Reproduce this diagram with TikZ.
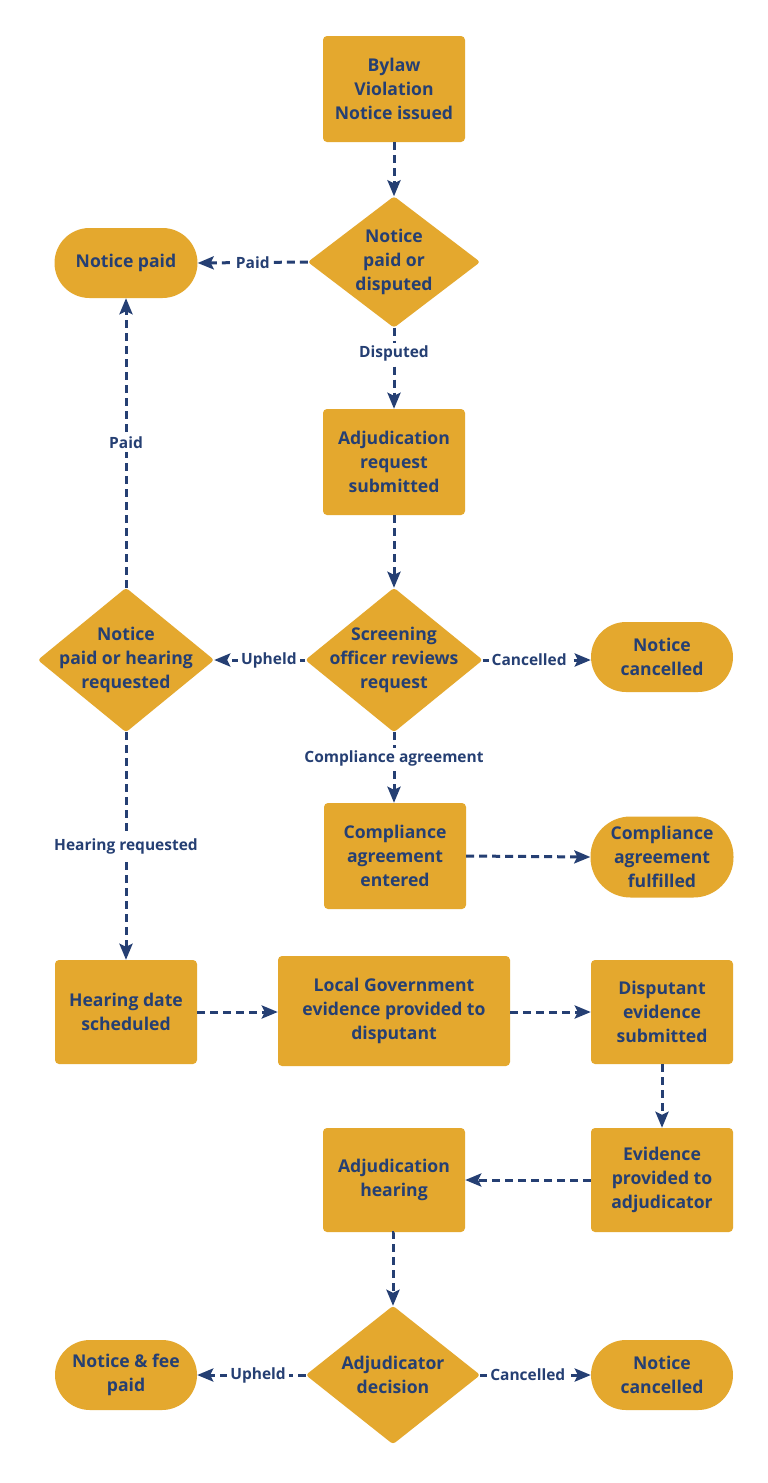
\documentclass[tikz,border=0pt]{standalone}
\usepackage{fontspec}
\setmainfont{Open Sans}
\usetikzlibrary{arrows.meta}
\definecolor{gold}{HTML}{E4A82E}
\definecolor{navy}{HTML}{253F73}
\tikzset{
  boxtext/.style={font=\bfseries\fontsize{17.6}{24}\selectfont, text=navy, align=center, inner sep=0pt},
  procbox/.style={boxtext, rectangle, fill=gold, rounded corners=4pt},
  termbox/.style={boxtext, rectangle, fill=gold, rounded corners=35pt},
  diabox/.style={boxtext, rectangle},
  flow/.style={draw=navy, line width=3pt, dash pattern=on 8pt off 5pt, -{Stealth[length=16pt,width=13pt,inset=3pt]}},
  lbl/.style={font=\bfseries\fontsize{15.5}{18}\selectfont, text=navy, fill=white, inner sep=3pt}
}
\newcommand{\diafill}[1]{\fill[gold, rounded corners=3pt] (#1.north) -- (#1.east) -- (#1.south) -- (#1.west) -- cycle;}
\begin{document}
\begin{tikzpicture}[x=1pt,y=-1pt]
\useasboundingbox[fill=white] (0,0) rectangle (768,1483);
% process boxes
\node[procbox, minimum width=142pt, minimum height=106pt] (b1) at (394,89) {Bylaw\\Violation\\Notice issued};
\node[procbox, minimum width=142pt, minimum height=106pt] (ar) at (394,462) {Adjudication\\request\\submitted};
\node[procbox, minimum width=142pt, minimum height=106pt] (ce) at (395,856) {Compliance\\agreement\\entered};
\node[procbox, minimum width=142pt, minimum height=104pt] (hd) at (126,1012) {Hearing date\\scheduled};
\node[procbox, minimum width=232pt, minimum height=110pt] (lg) at (394,1011) {Local Government\\evidence provided to\\disputant};
\node[procbox, minimum width=142pt, minimum height=104pt] (de) at (662,1012) {Disputant\\evidence\\submitted};
\node[procbox, minimum width=142pt, minimum height=104pt] (ep) at (662,1180) {Evidence\\provided to\\adjudicator};
\node[procbox, minimum width=142pt, minimum height=104pt] (ah) at (394,1180) {Adjudication\\hearing};
% terminals
\node[termbox, minimum width=143pt, minimum height=70pt] (np) at (126,263) {Notice paid};
\node[termbox, minimum width=142pt, minimum height=70pt] (nc1) at (662,657) {Notice\\cancelled};
\node[termbox, minimum width=143pt, minimum height=81pt, rounded corners=40pt] (cf) at (662,857) {Compliance\\agreement\\fulfilled};
\node[termbox, minimum width=142pt, minimum height=70pt] (nf) at (126,1375) {Notice \& fee\\paid};
\node[termbox, minimum width=142pt, minimum height=70pt] (nc2) at (662,1375) {Notice\\cancelled};
% diamonds
\node[diabox, minimum width=172pt, minimum height=131pt] (d1) at (394,262) {};
\node[diabox, minimum width=177pt, minimum height=144pt] (d2) at (394,660) {};
\node[diabox, minimum width=176pt, minimum height=144pt] (d3) at (126,660) {};
\node[diabox, minimum width=174pt, minimum height=138pt] (d4) at (393,1375) {};
\diafill{d1}\diafill{d2}\diafill{d3}\diafill{d4}
\node[boxtext] (t1) at (d1) {Notice\\paid or\\disputed};
\node[boxtext] (t2) at (d2) {Screening\\officer reviews\\request};
\node[boxtext] (t3) at (d3) {Notice\\paid or hearing\\requested};
\node[boxtext] (t4) at (d4) {Adjudicator\\decision};
% connectors
\draw[flow] (b1.south) -- (d1.north);
\draw[flow] (d1.west) -- node[lbl, pos=0.5] {Paid} (np.east);
\draw[flow] (d1.south) -- node[lbl, pos=0.32] {Disputed} (ar.north);
\draw[flow] (ar.south) -- (d2.north);
\draw[flow] (d2.west) -- node[lbl, pos=0.4] {Upheld} (d3.east);
\draw[flow] (d2.east) -- node[lbl, pos=0.43] {Cancelled} (nc1.west |- d2.east);
\draw[flow] (d2.south) -- node[lbl, pos=0.37] {Compliance agreement} (d2.south |- ce.north);
\draw[flow] (ce.east) -- (cf.west);
\draw[flow] (d3.north) -- node[lbl, pos=0.5] {Paid} (np.south);
\draw[flow] (d3.south) -- node[lbl, pos=0.5] {Hearing requested} (hd.north);
\draw[flow] (hd.east) -- (lg.west |- hd.east);
\draw[flow] (lg.east |- de.west) -- (de.west);
\draw[flow] (de.south) -- (ep.north);
\draw[flow] (ep.west) -- (ah.east);
\draw[flow] (ah.south) -- (ah.south -| d4.north) -- (d4.north);
\draw[flow] (d4.west) -- node[lbl, pos=0.44] {Upheld} (nf.east);
\draw[flow] (d4.east) -- node[lbl, pos=0.43] {Cancelled} (nc2.west);
\end{tikzpicture}
\end{document}
